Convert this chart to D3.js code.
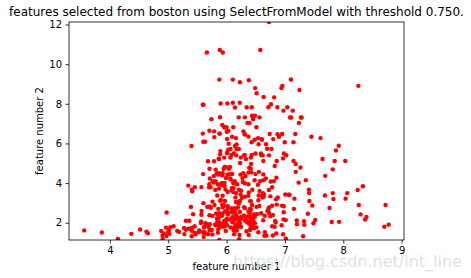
<!DOCTYPE html>
<html>
<head>
<meta charset="UTF-8">
<script src="https://d3js.org/d3.v7.min.js"></script>
<style>
  body { margin: 0; background: #fff; }
  text { font-family: "DejaVu Sans", sans-serif; }
</style>
</head>
<body>
<svg width="471" height="278"></svg>
<script>
// feature number 1 (RM)
const feature1 = [6.575,6.421,7.185,6.998,7.147,6.43,6.012,6.172,5.631,6.004,6.377,6.009,5.889,5.949,6.096,5.834,5.935,5.99,5.456,5.727,5.57,5.965,6.142,5.813,5.924,5.599,5.813,6.047,6.495,6.674,5.713,6.072,5.95,5.701,6.096,5.933,5.841,5.85,5.966,6.595,7.024,6.77,6.169,6.211,6.069,5.682,5.786,6.03,5.399,5.602,5.963,6.115,6.511,5.998,5.888,7.249,6.383,6.816,6.145,5.927,5.741,5.966,6.456,6.762,7.104,6.29,5.787,5.878,5.594,5.885,6.417,5.961,6.065,6.245,6.273,6.286,6.279,6.14,6.232,5.874,6.727,6.619,6.302,6.167,6.389,6.63,6.015,6.121,7.007,7.079,6.417,6.405,6.442,6.211,6.249,6.625,6.163,8.069,7.82,7.416,6.727,6.781,6.405,6.137,6.167,5.851,5.836,6.127,6.474,6.229,6.195,6.715,5.913,6.092,6.254,5.928,6.176,6.021,5.872,5.731,5.87,6.004,5.961,5.856,5.879,5.986,5.613,5.693,6.431,5.637,6.458,6.326,6.372,5.822,5.757,6.335,5.942,6.454,5.857,6.151,6.174,5.019,5.403,5.468,4.903,6.13,5.628,4.926,5.186,5.597,6.122,5.404,5.012,5.709,6.129,6.152,5.272,6.943,6.066,6.51,6.25,7.489,7.802,8.375,5.854,6.101,7.929,5.877,6.319,6.402,5.875,5.88,5.572,6.416,5.859,6.546,6.02,6.315,6.86,6.98,7.765,6.144,7.155,6.563,5.604,6.153,7.831,6.782,6.556,7.185,6.951,6.739,7.178,6.8,6.604,7.875,7.287,7.107,7.274,6.975,7.135,6.162,7.61,7.853,8.034,5.891,6.326,5.783,6.064,5.344,5.96,5.404,5.807,6.375,5.412,6.182,5.888,6.642,5.951,6.373,6.951,6.164,6.879,6.618,8.266,8.725,8.04,7.163,7.686,6.552,5.981,7.412,8.337,8.247,6.726,6.086,6.631,7.358,6.481,6.606,6.897,6.095,6.358,6.393,5.593,5.605,6.108,6.226,6.433,6.718,6.487,6.438,6.957,8.259,6.108,5.876,7.454,8.704,7.333,6.842,7.203,7.52,8.398,7.327,7.206,5.56,7.014,8.297,7.47,5.92,5.856,6.24,6.538,7.691,6.758,6.854,7.267,6.826,6.482,6.812,7.82,6.968,7.645,7.923,7.088,6.453,6.23,6.209,6.315,6.565,6.861,7.148,6.63,6.127,6.009,6.678,6.549,5.79,6.345,7.041,6.871,6.59,6.495,6.982,7.236,6.616,7.42,6.849,6.635,5.972,4.973,6.122,6.023,6.266,6.567,5.705,5.914,5.782,6.382,6.113,6.426,6.376,6.041,5.708,6.415,6.431,6.312,6.083,5.868,6.333,6.144,5.706,6.031,6.316,6.31,6.037,5.869,5.895,6.059,5.985,5.968,7.241,6.54,6.696,6.874,6.014,5.898,6.516,6.635,6.939,6.49,6.579,5.884,6.728,5.663,5.936,6.212,6.395,6.127,6.112,6.398,6.251,5.362,5.803,8.78,3.561,4.963,3.863,4.97,6.683,7.016,6.216,5.875,4.906,4.138,7.313,6.649,6.794,6.38,6.223,6.968,6.545,5.536,5.52,4.368,5.277,4.652,5.0,4.88,5.39,5.713,6.051,5.036,6.193,5.887,6.471,6.405,5.747,5.453,5.852,5.987,6.343,6.404,5.349,5.531,5.683,4.138,5.608,5.617,6.852,5.757,6.657,4.628,5.155,4.519,6.434,6.782,5.304,5.957,6.824,6.411,6.006,5.648,6.103,5.565,5.896,5.837,6.202,6.193,6.38,6.348,6.833,6.425,6.436,6.208,6.629,6.461,6.152,5.935,5.627,5.818,6.406,6.219,6.485,5.854,6.459,6.341,6.251,6.185,6.417,6.749,6.655,6.297,7.393,6.728,6.525,5.976,5.936,6.301,6.081,6.701,6.376,6.317,6.513,6.209,5.759,5.952,6.003,5.926,5.713,6.167,6.229,6.437,6.98,5.427,6.162,6.484,5.304,6.185,6.229,6.242,6.75,7.061,5.762,5.871,6.312,6.114,5.905,5.454,5.414,5.093,5.983,5.983,5.707,5.926,5.67,5.39,5.794,6.019,5.569,6.027,6.593,6.12,6.976,6.794,6.03];

// feature number 2 (DIS)
const feature2 = [4.09,4.9671,4.9671,6.0622,6.0622,6.0622,5.5605,5.9505,6.0821,6.5921,6.3467,6.2267,5.4509,4.7075,4.4619,4.4986,4.4986,4.2579,3.7965,3.7965,3.7979,4.0123,3.9769,4.0952,4.3996,4.4546,4.682,4.4534,4.4547,4.239,4.233,4.175,3.99,3.7872,3.7598,3.3603,3.3779,3.9342,3.8473,5.4011,5.4011,5.7209,5.7209,5.7209,5.7209,5.1004,5.1004,5.6894,5.87,6.0877,6.8147,6.8147,6.8147,6.8147,7.3197,8.6966,9.1876,8.3248,7.8148,6.932,7.2254,6.8185,7.2255,7.9809,9.2229,6.6115,6.6115,6.498,6.498,6.498,5.2873,5.2873,5.2873,5.2873,4.2515,4.5026,4.0522,4.0905,5.0141,4.5026,5.4007,5.4007,5.4007,5.4007,4.7794,4.4377,4.4272,3.7476,3.4217,3.4145,3.0923,3.0921,3.6659,3.6659,3.615,3.4952,3.4952,3.4952,3.4952,3.4952,2.7778,2.8561,2.7147,2.7147,2.421,2.1069,2.211,2.1224,2.4329,2.5451,2.7778,2.6775,2.3534,2.548,2.2565,2.4631,2.7301,2.7474,2.4775,2.7592,2.2577,2.1974,2.0869,1.9444,2.0063,1.9929,1.7572,1.7883,1.8125,1.9799,2.1185,2.271,2.3274,2.4699,2.346,2.1107,1.9669,1.8498,1.6686,1.6687,1.6119,1.4394,1.3216,1.4118,1.3459,1.4191,1.5166,1.4608,1.5296,1.5257,1.618,1.5916,1.6102,1.6232,1.7494,1.7455,1.7364,1.8773,1.7573,1.7659,1.7984,1.9709,2.0407,2.162,2.422,2.2834,2.0459,2.4259,2.1,2.2625,2.4259,2.389,2.5961,2.6463,2.7019,3.1323,3.5549,3.3175,2.9153,2.829,2.741,2.5979,2.7006,2.847,2.9879,3.2797,3.1992,3.7886,4.5667,4.5667,6.4798,6.4798,6.4798,6.2196,6.2196,5.6484,7.309,7.309,7.309,7.6534,7.6534,6.27,6.27,5.118,5.118,3.9454,4.3549,4.3549,4.2392,3.875,3.8771,3.665,3.6526,3.9454,3.5875,3.9454,3.1121,3.4211,2.8893,3.3633,2.8617,3.048,3.2721,3.2721,2.8944,2.8944,3.2157,3.2157,3.3751,3.3751,3.6715,3.6715,3.8384,3.6519,3.6519,3.6519,4.148,4.148,6.1899,6.1899,6.3361,6.3361,7.0355,7.0355,7.9549,7.9549,8.0555,8.0555,7.8265,7.8265,7.3967,7.3967,8.9067,8.9067,9.2203,9.2203,6.3361,1.801,1.8946,2.0107,2.1121,2.1398,2.2885,2.0788,1.9301,1.9865,2.1329,2.4216,2.872,3.9175,4.429,4.429,3.9175,4.3665,4.0776,4.2673,4.7872,4.8628,4.1403,4.1007,4.6947,5.2447,5.2119,5.885,7.3073,7.3073,9.0892,7.3172,7.3172,7.3172,5.1167,5.1167,5.1167,5.5027,5.5027,5.9604,5.9604,6.32,7.8278,7.8278,7.8278,5.4917,5.4917,5.4917,4.022,3.37,3.0992,3.1827,3.3175,3.1025,2.5194,2.6403,2.834,3.2628,3.6023,3.945,3.9986,4.0317,3.5325,4.0019,4.5404,4.5404,4.7211,4.7211,4.7211,5.4159,5.4159,5.4159,5.2146,5.2146,5.8736,6.6407,6.6407,6.4584,6.4584,5.9853,5.2311,5.615,4.8122,4.8122,4.8122,7.0379,6.2669,5.7321,6.4654,8.0136,8.0136,8.5353,8.344,8.7921,8.7921,10.7103,10.7103,12.1265,10.5857,10.5857,2.1222,2.5052,2.7227,2.5091,2.5182,2.2955,2.1036,1.9047,1.9047,1.6132,1.7523,1.5106,1.3325,1.3567,1.2024,1.1691,1.1296,1.1742,1.137,1.3163,1.3449,1.358,1.3861,1.3861,1.4165,1.5192,1.5804,1.5331,1.4395,1.4261,1.4672,1.5184,1.5895,1.7281,1.9265,2.1678,1.77,1.7912,1.7821,1.7257,1.6768,1.6334,1.4896,1.5004,1.5888,1.5741,1.639,1.7028,1.6074,1.4254,1.1781,1.2852,1.4547,1.4655,1.413,1.5275,1.5539,1.5894,1.6582,1.8347,1.8195,1.6475,1.8026,1.794,1.8589,1.8746,1.9512,2.0218,2.0635,1.9096,1.9976,1.8629,1.9356,1.9682,2.0527,2.0882,2.2004,2.3158,2.2222,2.1247,2.0026,1.9142,1.8206,1.8172,1.8662,2.0651,2.0048,1.9784,1.8956,1.9879,2.072,2.198,2.2616,2.185,2.3236,2.3552,2.3682,2.4527,2.4961,2.4358,2.5806,2.7792,2.7831,2.7175,2.5975,2.5671,2.7344,2.8016,2.9634,3.0665,2.8715,2.5403,2.9084,2.8237,3.0334,3.0993,2.8965,2.5329,2.4298,2.206,2.3053,2.1007,2.1705,1.9512,3.4242,3.3317,3.4106,4.0983,3.724,3.9917,3.5459,3.1523,1.8209,1.7554,1.8226,1.8681,2.1099,2.3817,2.3817,2.7986,2.7986,2.8927,2.4091,2.3999,2.4982,2.4786,2.2875,2.1675,2.3889,2.505];

const xTicks = [4, 5, 6, 7, 8, 9];
const yTicks = [2, 4, 6, 8, 10, 12];

const points = d3.range(feature1.length).map(i => ({ x: feature1[i], y: feature2[i] }));

const svg = d3.select("svg"),
      margin = { top: 22, right: 67, bottom: 38, left: 69 },
      width = +svg.attr("width") - margin.left - margin.right,
      height = +svg.attr("height") - margin.top - margin.bottom;

// x: auto limits with 5% padding, y: limits set to min/max of feature 2
const xMin = d3.min(feature1), xMax = d3.max(feature1), pad = (xMax - xMin) * 0.05;
const x = d3.scaleLinear().domain([xMin - pad, xMax + pad]).range([0, width]);
const y = d3.scaleLinear().domain([d3.min(feature2), d3.max(feature2)]).range([height, 0]);

const g = svg.append("g").attr("transform", `translate(${margin.left},${margin.top})`);

g.append("clipPath").attr("id", "clip")
  .append("rect").attr("width", width).attr("height", height);

g.append("g").attr("clip-path", "url(#clip)")
  .selectAll("circle")
  .data(points)
  .enter().append("circle")
  .attr("cx", d => x(d.x))
  .attr("cy", d => y(d.y))
  .attr("r", 2.2)
  .attr("fill", "#ff0000");

// axes
const xAxis = g.append("g")
  .attr("transform", `translate(0,${height})`)
  .call(d3.axisBottom(x).tickValues(xTicks).tickFormat(d3.format("d")).tickSize(3.5).tickPadding(3.5).tickSizeOuter(0));
const yAxis = g.append("g")
  .call(d3.axisLeft(y).tickValues(yTicks).tickFormat(d3.format("d")).tickSize(3.5).tickPadding(3.5).tickSizeOuter(0));
[xAxis, yAxis].forEach(a => {
  a.selectAll("text").attr("font-size", 10).attr("fill", "#000").attr("font-family", "DejaVu Sans");
  a.selectAll("line").attr("stroke", "#000").attr("stroke-width", 0.8);
  a.select(".domain").remove();
});

// frame
g.append("rect")
  .attr("width", width).attr("height", height)
  .attr("fill", "none").attr("stroke", "#000").attr("stroke-width", 0.8);

// title and labels
svg.append("text")
  .attr("x", margin.left + width / 2).attr("y", 16)
  .attr("text-anchor", "middle").attr("font-size", 12)
  .text("features selected from boston using SelectFromModel with threshold 0.750.");

svg.append("text")
  .attr("x", margin.left + width / 2).attr("y", 270)
  .attr("text-anchor", "middle").attr("font-size", 10)
  .text("feature number 1");

svg.append("text")
  .attr("transform", `translate(43,${margin.top + height / 2}) rotate(-90)`)
  .attr("text-anchor", "middle").attr("font-size", 10)
  .text("feature number 2");

// watermark
svg.append("text")
  .attr("x", 462).attr("y", 267)
  .attr("text-anchor", "end").attr("font-size", 16)
  .attr("font-family", "Arial, Liberation Sans, sans-serif")
  .attr("fill", "#dcdcdc").attr("opacity", 0.85)
  .text("https://blog.csdn.net/int_line");
</script>
</body>
</html>
